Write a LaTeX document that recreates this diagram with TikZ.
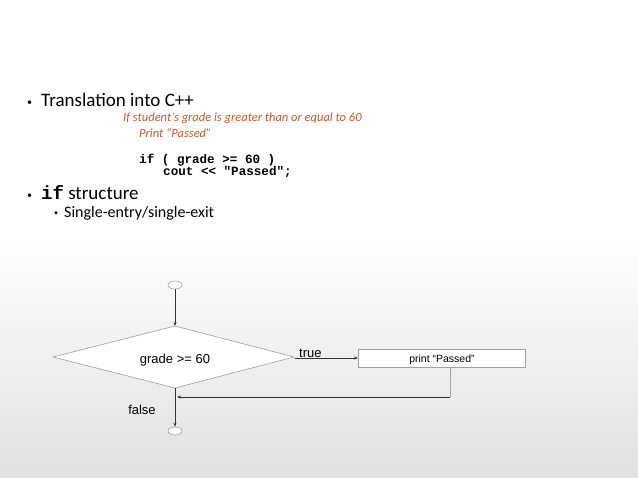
\documentclass[tikz,border=0pt]{standalone}
\usepackage{fontspec}
\setmainfont{Carlito}
\newfontfamily\arialf{Liberation Sans}
\newfontfamily\monof{Liberation Mono}
\usetikzlibrary{arrows.meta,shapes.geometric}
\definecolor{orng}{RGB}{197,90,40}
\definecolor{lg}{RGB}{160,160,160}
\newcommand{\bul}{{\fontsize{10}{10}\selectfont\raisebox{1.5pt}{\textbullet}}}
\begin{document}
\begin{tikzpicture}[x=1pt,y=-1pt,
  txt/.style={anchor=west,inner sep=0pt},
  flow/.style={draw=lg,fill=white,line width=0.6pt},
  arr/.style={-{Stealth[length=4pt,width=3pt]},line width=0.7pt,black!80},
  ln/.style={line width=0.7pt,black!80}]
\shade[top color=white,bottom color=black!12,middle color=white] (0,0) rectangle (638,478);
\useasboundingbox (0,0) rectangle (638,478);
\node[txt,font=\fontsize{19}{22}\selectfont] (b1) at (27,100) {\bul\hspace{9pt}Translation into C++};
\node[txt,font=\fontsize{12.5}{14}\selectfont\itshape,text=orng] (o1) at (123,118) {If student’s grade is greater than or equal to 60};
\node[txt,font=\fontsize{12.5}{14}\selectfont\itshape,text=orng] (o2) at (139,133) {Print “Passed”};
\node[txt,font=\fontsize{12.6}{13}\selectfont\monof\bfseries] (c1) at (139,160) {if ( grade >= 60 )};
\node[txt,font=\fontsize{12.6}{13}\selectfont\monof\bfseries] (c2) at (163,172) {cout << "Passed";};
\node[txt,font=\fontsize{19}{22}\selectfont] (b2) at (27,193) {\bul\hspace{9pt}{\monof\bfseries if} structure};
\node[txt,font=\fontsize{16}{18}\selectfont] (b3) at (54,213) {{\fontsize{8}{8}\selectfont\raisebox{1.5pt}{\textbullet}}\hspace{6pt}Single-entry/single-exit};
% flowchart
\node[flow,ellipse,minimum width=14pt,minimum height=8pt,inner sep=0pt] (s) at (175,285) {};
\path[flow] (53,357) -- (175,326) -- (294,357) -- (175,388) -- cycle;
\coordinate (dt) at (175,326); \coordinate (db) at (175,388); \coordinate (dr) at (295,358);
\node[font=\arialf\fontsize{13}{15}\selectfont] (g) at (175,360) {grade >= 60};
\node[flow,draw=lg,minimum width=167pt,minimum height=18pt,inner sep=0pt,anchor=north west] (p) at (358,349) {};
\node[font=\arialf\fontsize{10.5}{12}\selectfont] at (442,360) {print “Passed”};
\node[flow,ellipse,minimum width=14pt,minimum height=8pt,inner sep=0pt] (e) at (175,431) {};
\draw[arr] (s) -- (dt);
\draw[arr] (dr) -- (p.west |- dr);
\node[font=\arialf\fontsize{13}{15}\selectfont,anchor=south west,inner sep=1pt] at (298,359) {true};
\draw[draw=lg,line width=0.6pt] (450,367) -- (450,397);
\draw[arr] (450,397) -- (177,397);
\draw[arr] (db) -- (e);
\node[font=\arialf\fontsize{13}{15}\selectfont] at (142,410) {false};
\end{tikzpicture}
\end{document}
